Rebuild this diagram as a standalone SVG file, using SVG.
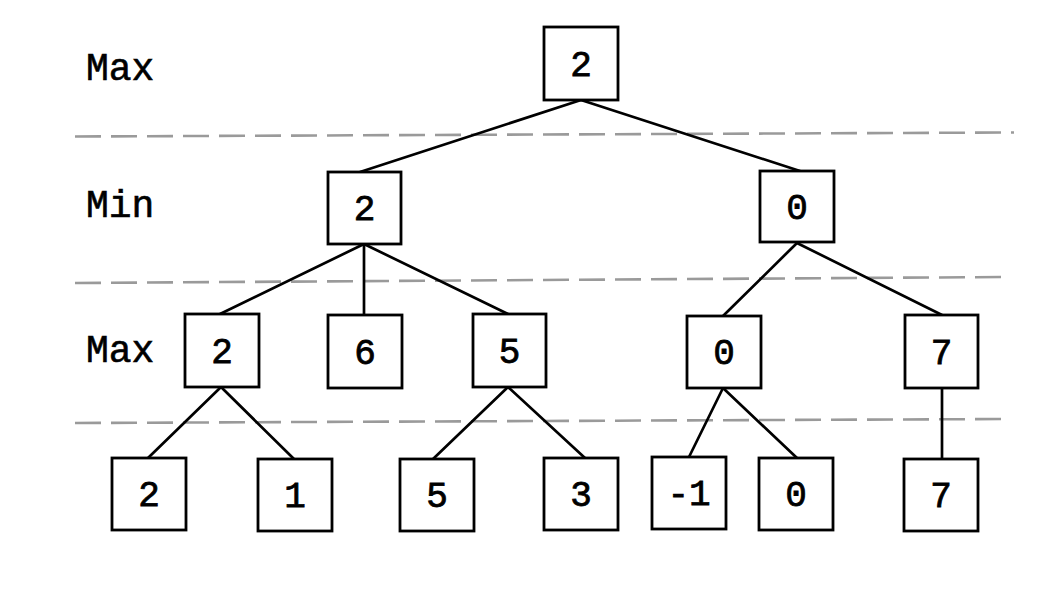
<svg xmlns="http://www.w3.org/2000/svg" width="1048" height="602" viewBox="0 0 1048 602">
<style>
.box{fill:#fff;stroke:#000;stroke-width:2.8}
.num{font-family:"Liberation Mono","DejaVu Sans Mono",monospace;font-size:36px;fill:#000;stroke:#000;stroke-width:0.8;text-anchor:middle}
.lbl{font-family:"Liberation Mono","DejaVu Sans Mono",monospace;font-size:38px;fill:#000;stroke:#000;stroke-width:0.6}
.dash{stroke:#9a9a9a;stroke-width:2.6;stroke-dasharray:26 10;fill:none}
.edge{stroke:#000;stroke-width:2.7;fill:none;stroke-linecap:round}
</style>
<rect width="1048" height="602" fill="#fff"/>
<g id="levels">
<line class="dash" x1="75" y1="136.5" x2="1014" y2="132.5"/>
<line class="dash" x1="75" y1="283" x2="1007" y2="277"/>
<line class="dash" x1="75" y1="423" x2="1008" y2="419"/>
<text class="lbl" x="86" y="80">Max</text>
<text class="lbl" x="86" y="217">Min</text>
<text class="lbl" x="86" y="362">Max</text>
</g>
<g id="connectors">
<line class="edge" x1="581" y1="100" x2="360" y2="172"/>
<line class="edge" x1="581" y1="100" x2="800" y2="171"/>
<line class="edge" x1="364" y1="244" x2="220" y2="314"/>
<line class="edge" x1="364" y1="244" x2="364" y2="315"/>
<line class="edge" x1="364" y1="244" x2="508" y2="314"/>
<line class="edge" x1="797" y1="243" x2="723" y2="316"/>
<line class="edge" x1="797" y1="243" x2="942" y2="315"/>
<line class="edge" x1="221" y1="387" x2="148" y2="458"/>
<line class="edge" x1="221" y1="387" x2="294" y2="459"/>
<line class="edge" x1="508" y1="387" x2="433" y2="459"/>
<line class="edge" x1="508" y1="387" x2="585" y2="458"/>
<line class="edge" x1="723" y1="388" x2="689" y2="457"/>
<line class="edge" x1="723" y1="388" x2="797" y2="458"/>
<line class="edge" x1="942" y1="388" x2="942" y2="459"/>
</g>
<g id="root"><rect class="box" x="544" y="27" width="74" height="73"/><text class="num" x="581" y="76">2</text></g>
<g id="min-a"><rect class="box" x="328" y="172" width="73" height="72"/><text class="num" x="364.5" y="220">2</text></g>
<g id="min-b"><rect class="box" x="760" y="171" width="74" height="71"/><text class="num" x="797" y="219">0</text></g>
<g id="max-a"><rect class="box" x="185" y="314" width="74" height="73"/><text class="num" x="222" y="363">2</text></g>
<g id="max-b"><rect class="box" x="328" y="315" width="74" height="73"/><text class="num" x="365" y="364">6</text></g>
<g id="max-c"><rect class="box" x="473" y="314" width="73" height="73"/><text class="num" x="509.5" y="363">5</text></g>
<g id="max-d"><rect class="box" x="687" y="316" width="74" height="72"/><text class="num" x="724" y="364">0</text></g>
<g id="max-e"><rect class="box" x="905" y="315" width="73" height="73"/><text class="num" x="941.5" y="364">7</text></g>
<g id="leaf-a"><rect class="box" x="112" y="458" width="74" height="72"/><text class="num" x="149" y="506">2</text></g>
<g id="leaf-b"><rect class="box" x="258" y="459" width="74" height="72"/><text class="num" x="295" y="507">1</text></g>
<g id="leaf-c"><rect class="box" x="400" y="459" width="74" height="72"/><text class="num" x="437" y="507">5</text></g>
<g id="leaf-d"><rect class="box" x="544" y="458" width="74" height="72"/><text class="num" x="581" y="506">3</text></g>
<g id="leaf-e"><rect class="box" x="652" y="457" width="74" height="72"/><text class="num" x="689" y="505">-1</text></g>
<g id="leaf-f"><rect class="box" x="759" y="458" width="74" height="72"/><text class="num" x="796" y="506">0</text></g>
<g id="leaf-g"><rect class="box" x="904" y="459" width="74" height="72"/><text class="num" x="941" y="507">7</text></g>
</svg>
